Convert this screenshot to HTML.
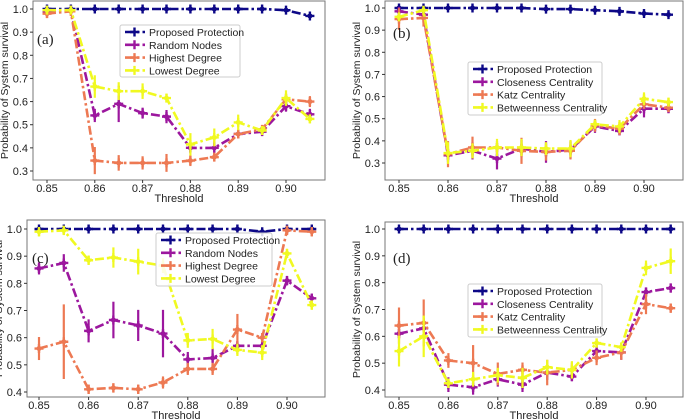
<!DOCTYPE html>
<html><head><meta charset="utf-8"><style>
body{margin:0;background:#fff}
svg{display:block;font-family:"Liberation Sans",sans-serif}
</style></head><body>
<svg id="c" width="685" height="419" viewBox="0 0 685 419"></svg>
<script>
const xs=[0.85,0.855,0.86,0.865,0.87,0.875,0.88,0.885,0.89,0.895,0.90,0.905];
const xTicks=[0.85,0.86,0.87,0.88,0.89,0.90];
const xTickLabels=["0.85","0.86","0.87","0.88","0.89","0.90"];
const colors=["#0d0887","#9c179e","#ed7953","#f0f921"];
const namesA=["Proposed Protection","Random Nodes","Highest Degree","Lowest Degree"];
const namesB=["Proposed Protection","Closeness Centrality","Katz Centrality","Betweenness Centrality"];
const a0=[1,1,1,1,1,1,1,1,1,1,0.995,0.97];
const a1=[0.99,0.995,0.54,0.59,0.55,0.535,0.40,0.40,0.46,0.47,0.58,0.545];
const a2=[0.98,0.99,0.345,0.335,0.335,0.335,0.345,0.36,0.46,0.48,0.61,0.60];
const a3=[0.995,0.995,0.665,0.645,0.645,0.615,0.415,0.445,0.51,0.475,0.615,0.525];
const b0=[1,1,1,1,1,1,0.995,0.995,0.99,0.985,0.975,0.97];
const b1=[0.985,0.97,0.335,0.355,0.32,0.365,0.35,0.36,0.465,0.445,0.545,0.545];
const b2=[0.95,0.955,0.34,0.37,0.37,0.355,0.35,0.355,0.47,0.455,0.565,0.55];
const b3=[0.96,0.99,0.345,0.355,0.37,0.37,0.365,0.365,0.475,0.465,0.59,0.575];
const c0=[1,1,1,1,1,1,1,1,1,0.99,1,1];
const c1=[0.855,0.875,0.625,0.665,0.645,0.615,0.52,0.525,0.57,0.57,0.81,0.745];
const c2=[0.56,0.585,0.41,0.415,0.41,0.435,0.485,0.485,0.63,0.60,0.995,0.99];
const c3=[0.99,0.995,0.885,0.895,0.88,0.865,0.59,0.595,0.555,0.545,0.91,0.72];
const d0=[1,1,1,1,1,1,1,1,1,1,1,1];
const d1=[0.61,0.63,0.42,0.41,0.44,0.42,0.465,0.45,0.545,0.54,0.765,0.78];
const d2=[0.64,0.65,0.51,0.50,0.46,0.475,0.465,0.475,0.52,0.54,0.72,0.705];
const d3=[0.545,0.60,0.425,0.44,0.455,0.445,0.485,0.475,0.575,0.56,0.855,0.88];
const e1=[0.01,0.01,0.02,0.07,0.015,0.02,0.015,0.02,0.01,0.01,0.015,0.015];
const e2=[0.01,0.01,0.05,0.025,0.02,0.03,0.015,0.01,0.01,0.01,0.015,0.015];
const e3=[0.01,0.01,0.04,0.03,0.025,0.01,0.04,0.03,0.025,0.01,0.025,0.01];
const f1=[0.01,0.01,0.02,0.03,0.04,0.03,0.04,0.03,0.02,0.01,0.03,0.01];
const f2=[0.04,0.03,0.05,0.04,0.02,0.05,0.03,0.03,0.02,0.02,0.01,0.01];
const f3=[0.01,0.01,0.04,0.025,0.03,0.03,0.02,0.03,0.01,0.02,0.02,0.01];
const h1=[0.015,0.025,0.035,0.06,0.05,0.08,0.02,0.03,0.01,0.01,0.01,0.01];
const h2=[0.035,0.13,0.01,0.01,0.01,0.015,0.015,0.015,0.05,0.01,0.01,0.01];
const h3=[0.01,0.01,0.01,0.03,0.04,0.02,0.02,0.03,0.015,0.02,0.01,0.01];
const g1=[0.01,0.01,0.02,0.02,0.02,0.02,0.02,0.01,0.02,0.02,0.01,0.01];
const g2=[0.06,0.08,0.02,0.06,0.035,0.02,0.04,0.02,0.02,0.02,0.03,0.01];
const g3=[0.05,0.07,0.01,0.02,0.02,0.03,0.02,0.025,0.01,0.01,0.02,0.04];
const yTicksAB=[0.3,0.4,0.5,0.6,0.7,0.8,0.9,1.0];
const yTicksCD=[0.4,0.5,0.6,0.7,0.8,0.9,1.0];
const zero=[0,0,0,0,0,0,0,0,0,0,0,0];
const panels=[
 {id:"a",box:[33,1,325,180],x0:47,x1:286,y0:171,y1:9,yv0:0.3,yt:yTicksAB,s:[a0,a1,a2,a3],e:[zero,e1,e2,e3],n:namesA,leg:[120,25,240,77],lab:[37,44]},
 {id:"b",box:[385,1,683,180],x0:399,x1:644,y0:163,y1:8,yv0:0.3,yt:yTicksAB,s:[b0,b1,b2,b3],e:[zero,f1,f2,f3],n:namesB,leg:[468,62,602,115],lab:[393,38]},
 {id:"c",box:[27,220,325,397],x0:39,x1:287,y0:392,y1:229,yv0:0.4,yt:yTicksCD,s:[c0,c1,c2,c3],e:[zero,h1,h2,h3],n:namesA,leg:[156,233,272,286],lab:[32,263]},
 {id:"d",box:[385,222,683,397],x0:399,x1:646,y0:390,y1:229,yv0:0.4,yt:yTicksCD,s:[d0,d1,d2,d3],e:[zero,g1,g2,g3],n:namesB,leg:[468,284,602,337],lab:[393,263]}
];
const svg=document.getElementById('c');
const NS="http://www.w3.org/2000/svg";
function mk(t,at,p){const e=document.createElementNS(NS,t);for(const k in at)e.setAttribute(k,at[k]);(p||svg).appendChild(e);return e;}
panels.forEach(P=>{
 const g=mk('g',{});
 
 
 const sx=v=>P.x0+(v-0.85)/0.05*(P.x1-P.x0);
 const sy=v=>P.y0+(v-P.yv0)/(1-P.yv0)*(P.y1-P.y0);
 const [L,T,R,B]=P.box;
 P.s.forEach((ser,si)=>{
  const pts=xs.map((x,i)=>sx(x).toFixed(1)+','+sy(ser[i]).toFixed(1)).join(' ');
  const pl=mk('polyline',{points:pts,fill:'none',stroke:colors[si],'stroke-width':2.6,'stroke-dasharray':'9,3,2.5,3'},g);
  
  
  xs.forEach((x,i)=>{
   const cx=sx(x),cy=sy(ser[i]),er=P.e[si][i];
   const eb=mk('line',{x1:cx,x2:cx,y1:sy(ser[i]-er)+2,y2:sy(ser[i]+er)-2,stroke:colors[si],'stroke-width':2.2},g);
   
   
   const m=mk('path',{d:`M${cx-4.5},${cy}h9M${cx},${cy-4.5}v9`,stroke:colors[si],'stroke-width':2.4},g);
   
   
   mk('circle',{cx:cx,cy:cy,r:2.5,fill:colors[si]},g);
  });
 });
 const fr=mk('rect',{x:L,y:T,width:R-L,height:B-T,fill:'none',stroke:'#777','stroke-width':1},g);
 
 
 xTicks.forEach((t,i)=>{
  const x=sx(t);
  mk('line',{x1:x,x2:x,y1:B,y2:B+3,stroke:'#333'},g);
  const tx=mk('text',{x:x,y:B+12,'font-size':11,'text-anchor':'middle',fill:'#222'},g);
  tx.textContent=xTickLabels[i];
  
  
 });
 P.yt.forEach(t=>{
  const y=sy(t);
  mk('line',{x1:L-3,x2:L,y1:y,y2:y,stroke:'#333'},g);
  const tx=mk('text',{x:L-5,y:y+4,'font-size':11,'text-anchor':'end',fill:'#222'},g);
  tx.textContent=t.toFixed(1);
  
  
 });
 const xt=mk('text',{x:(L+R)/2,y:B+22,'font-size':11,'text-anchor':'middle',fill:'#222'},g);
 xt.textContent='Threshold';
 
 
 const ycx=L-25, ycy=(T+B)/2;
 const yt=mk('text',{x:ycx,y:ycy,'font-size':10.5,'text-anchor':'middle',fill:'#222',transform:`rotate(-90 ${ycx} ${ycy})`},g);
 yt.textContent='Probability of System survival';
 
 
 const lb=mk('text',{x:P.lab[0],y:P.lab[1],'font-size':15,fill:'#222','font-family':'Liberation Serif, serif'},g);
 lb.textContent='('+P.id+')';
 
 
 const [lx,ly,lr,lbm]=P.leg;
 const lg=mk('g',{},g);
 
 
 mk('rect',{x:lx,y:ly,width:lr-lx,height:lbm-ly,fill:'#fff','fill-opacity':0.85,stroke:'#ccc',rx:2},lg);
 P.n.forEach((nm,i)=>{
  const yy=ly+7+i*12.8;
  mk('line',{x1:lx+5,x2:lx+25,y1:yy,y2:yy,stroke:colors[i],'stroke-width':2.6,'stroke-dasharray':'9,3,2.5,3'},lg);
  mk('path',{d:`M${lx+10},${yy}h9M${lx+14.5},${yy-4.5}v9`,stroke:colors[i],'stroke-width':2.4},lg);
  const t=mk('text',{x:lx+29,y:yy+4,'font-size':10.5,fill:'#222'},lg);
  t.textContent=nm;
  
  
 });
});
</script>
</body></html>
